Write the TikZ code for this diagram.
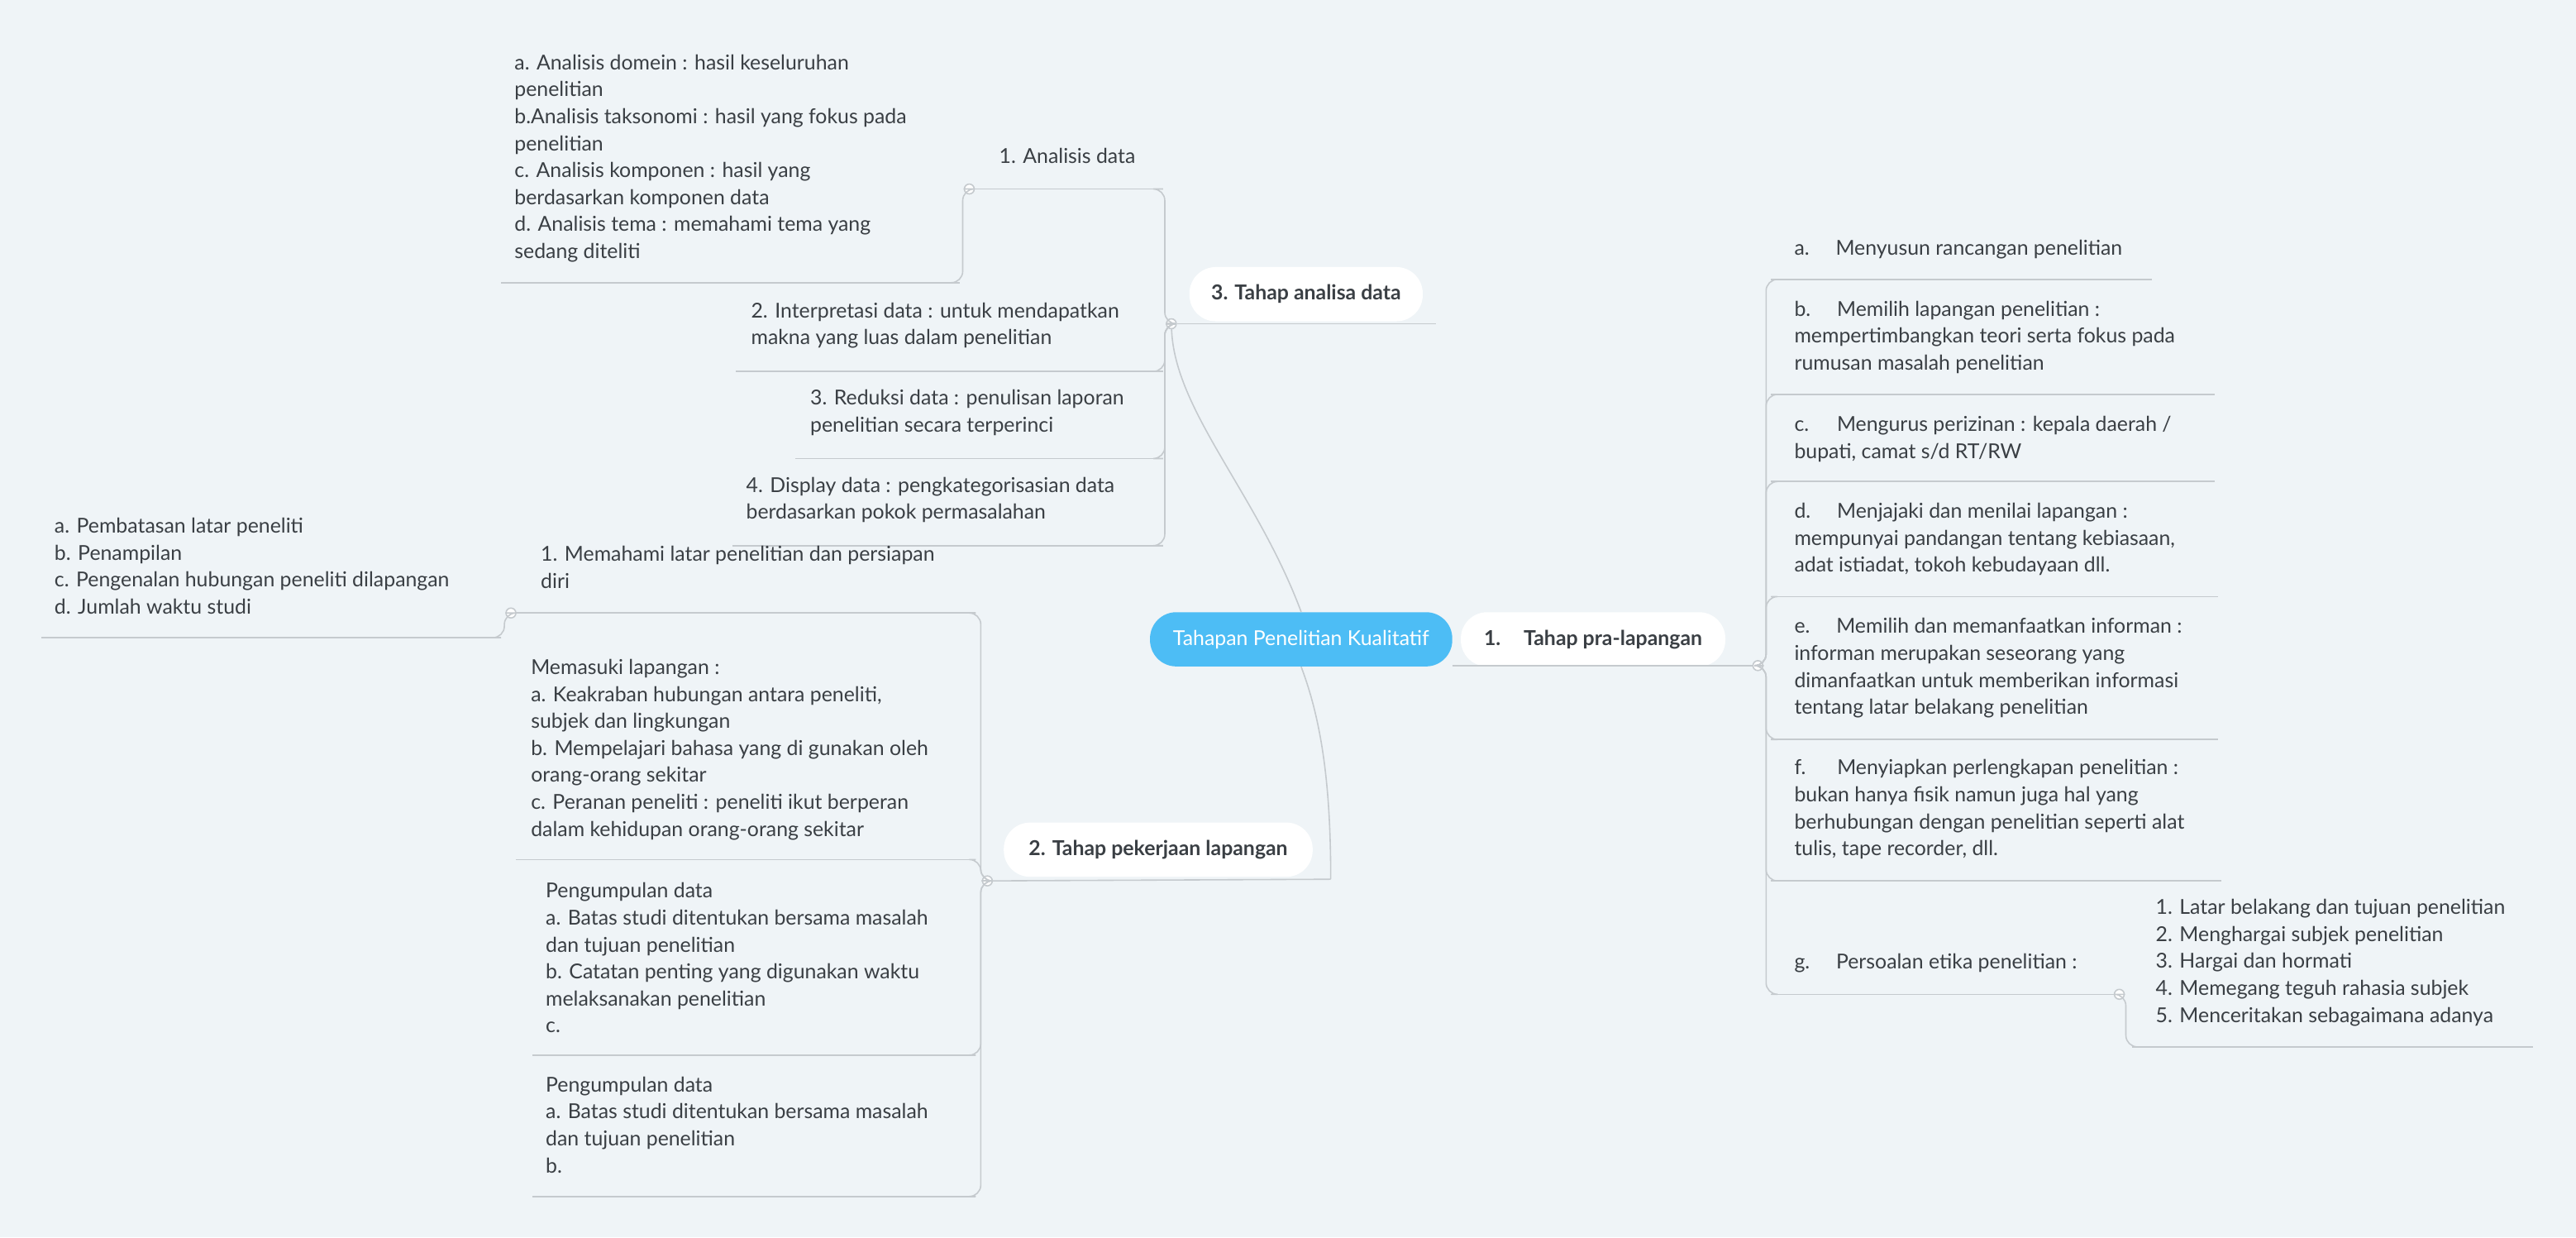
\documentclass[tikz,border=0pt]{standalone}
\usepackage{fontspec}
\setmainfont{Lato}
\definecolor{bg}{HTML}{EFF4F7}
\definecolor{ln}{HTML}{C5CACE}
\definecolor{tx}{HTML}{3A3F44}
\definecolor{ctr}{HTML}{4DBDF5}
\newcommand{\fsz}{\fontsize{12.5}{16.4}\selectfont}
\tikzset{
 txt/.style={anchor=north west,inner sep=0pt,align=left,font=\fsz,text=tx},
 conn/.style={draw=ln,line width=0.8pt,rounded corners=7pt},
 jn/.style={circle,draw=ln,fill=white,line width=0.8pt,inner sep=0pt,minimum size=6pt},
 pill/.style={rounded corners=16pt,fill=white,minimum height=33pt,inner xsep=10pt,font=\fsz\bfseries,text=tx}
}
\begin{document}
\begin{tikzpicture}[x=1pt,y=-1pt]
\fill[bg] (0,0) rectangle (1568,753);
\useasboundingbox (0,0) rectangle (1568,753);
% center
\node[pill,fill=ctr,text=white,font=\fsz,minimum width=184pt] (c) at (792,389) {Tahapan Penelitian Kualitatif};
% ---------- branch 1
\node[pill,minimum width=161pt,anchor=west] (t1) at (889,389) {1.\hspace{14pt}Tahap pra-lapangan};
\coordinate (t1l) at (884,405);
\node[jn] (j1) at (1070,405) {};
\draw[conn] (t1l) -- (j1);
\newcommand{\ritem}[5]{% name, ytop, text, yline, xend
 \node[txt] (#1) at (1092,#2-8) {#3};
 \coordinate (#1a) at (1078,#4);
 \coordinate (#1b) at (#5,#4);
 \draw[conn] (#1a) -- (#1b);
 \draw[conn] (j1) -- ++(5,0) |- (#1a);}
\ritem{ra}{154}{a.\hspace{16pt}Menyusun rancangan penelitian}{170}{1310}
\ritem{rb}{191}{b.\hspace{16pt}Memilih lapangan penelitian :\\mempertimbangkan teori serta fokus pada\\rumusan masalah penelitian}{240}{1348}
\ritem{rc}{261}{c.\hspace{17pt}Mengurus perizinan : kepala daerah /\\bupati, camat s/d RT/RW}{293}{1348}
\ritem{rd}{314}{d.\hspace{16pt}Menjajaki dan menilai lapangan :\\mempunyai pandangan tentang kebiasaan,\\adat istiadat, tokoh kebudayaan dll.}{363}{1350}
\ritem{re}{384}{e.\hspace{16pt}Memilih dan memanfaatkan informan :\\informan merupakan seseorang yang\\dimanfaatkan untuk memberikan informasi\\tentang latar belakang penelitian}{450}{1350}
\ritem{rf}{470}{f.\hspace{19pt}Menyiapkan perlengkapan penelitian :\\bukan hanya fisik namun juga hal yang\\berhubungan dengan penelitian seperti alat\\tulis, tape recorder, dll.}{536}{1352}
\ritem{rg}{588}{g.\hspace{16pt}Persoalan etika penelitian :}{605}{1290}
\node[jn] (jg) at (1290,605) {};
\node[txt] (rgs) at (1312,555-8) {1. Latar belakang dan tujuan penelitian\\2. Menghargai subjek penelitian\\3. Hargai dan hormati\\4. Memegang teguh rahasia subjek\\5. Menceritakan sebagaimana adanya};
\coordinate (rgsa) at (1298,637); \coordinate (rgsb) at (1542,637);
\draw[conn] (rgsa) -- (rgsb);
\draw[conn] (jg) -- ++(4,0) |- (rgsa);
% ---------- branch 3
\node[pill,minimum width=142pt] (t3) at (795,179) {3. Tahap analisa data};
\node[jn] (j3) at (713,197) {};
\coordinate (t3r) at (874,197);
\draw[conn] (j3) -- (t3r);
\draw[conn] (c.north) .. controls (765,300) and (715,250) .. (j3);
\newcommand{\litem}[7]{% name, x, ytop, text, yline, xstart, junction, xend
 \node[txt] (#1) at (#2,#3-8) {#4};
 \coordinate (#1a) at (#6,#5);
 \coordinate (#1b) at (708,#5);
 \draw[conn] (#1a) -- (#1b);
 \draw[conn] (#7) -- ++(-4,0) |- (#1b);}
\litem{a1}{608}{98}{1. Analisis data}{115}{590}{j3}
\litem{a2}{457}{192}{2. Interpretasi data : untuk mendapatkan\\makna yang luas dalam penelitian}{226}{448}{j3}
\litem{a3}{493}{245}{3. Reduksi data : penulisan laporan\\penelitian secara terperinci}{279}{484}{j3}
\litem{a4}{454}{298}{4. Display data : pengkategorisasian data\\berdasarkan pokok permasalahan}{332}{446}{j3}
\node[jn] (ja1) at (590,115) {};
\node[txt] (a1s) at (313,41-8) {a. Analisis domein : hasil keseluruhan\\penelitian\\b.Analisis taksonomi : hasil yang fokus pada\\penelitian\\c. Analisis komponen : hasil yang\\berdasarkan komponen data\\d. Analisis tema : memahami tema yang\\sedang diteliti};
\coordinate (a1sa) at (305,172); \coordinate (a1sb) at (584,172);
\draw[conn] (a1sa) -- (a1sb);
\draw[conn] (ja1) -- ++(-4,0) |- (a1sb);
% ---------- branch 2
\node[pill,minimum width=188pt] (t2) at (705,517) {2. Tahap pekerjaan lapangan};
\node[jn] (j2) at (601,536) {};
\coordinate (t2r) at (810,535);
\draw[conn] (j2) -- (t2r);
\draw[conn] (c.south) .. controls (805,440) and (810,480) .. (t2r);
\newcommand{\bitem}[6]{% name, x, ytop, text, yline, xstart
 \node[txt] (#1) at (#2,#3-8) {#4};
 \coordinate (#1a) at (#6,#5);
 \coordinate (#1b) at (594,#5);
 \draw[conn] (#1a) -- (#1b);
 \draw[conn] (j2) -- ++(-4,0) |- (#1b);}
\bitem{b1}{329}{340}{1. Memahami latar penelitian dan persiapan\\diri}{373}{312}
\bitem{b2}{323}{409}{Memasuki lapangan :\\a. Keakraban hubungan antara peneliti,\\subjek dan lingkungan\\b. Mempelajari bahasa yang di gunakan oleh\\orang-orang sekitar\\c. Peranan peneliti : peneliti ikut berperan\\dalam kehidupan orang-orang sekitar}{523}{314}
\bitem{b3}{332}{545}{Pengumpulan data\\a. Batas studi ditentukan bersama masalah\\dan tujuan penelitian\\b. Catatan penting yang digunakan waktu\\melaksanakan penelitian\\c.}{642}{324}
\bitem{b4}{332}{663}{Pengumpulan data\\a. Batas studi ditentukan bersama masalah\\dan tujuan penelitian\\b.}{728}{324}
\node[jn] (jb1) at (311,373) {};
\node[txt] (b1s) at (33,323-8) {a. Pembatasan latar peneliti\\b. Penampilan\\c. Pengenalan hubungan peneliti dilapangan\\d. Jumlah waktu studi};
\coordinate (b1sa) at (25,388); \coordinate (b1sb) at (305,388);
\draw[conn] (b1sa) -- (b1sb);
\draw[conn] (jb1) -- ++(-4,0) |- (b1sb);
\end{tikzpicture}
\end{document}
